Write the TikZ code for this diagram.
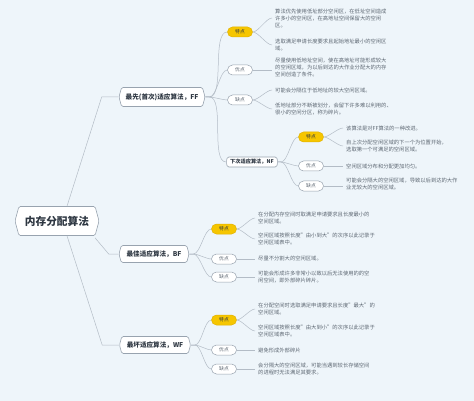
\documentclass[tikz,border=0pt]{standalone}
\usepackage{fontspec}
\setmainfont{Noto Sans CJK SC}
\usetikzlibrary{shapes.symbols}
\definecolor{bgblue}{HTML}{EEF5FA}
\definecolor{linkgray}{HTML}{B3BCC6}
\definecolor{edgegray}{HTML}{98A3AF}
\definecolor{maintext}{HTML}{2E3742}
\definecolor{notegray}{HTML}{5E6873}
\definecolor{tagyellow}{HTML}{F6C600}
\definecolor{tagedge}{HTML}{E2B200}
\tikzset{
  link/.style={draw=linkgray,line width=0.5pt},
  topic/.style={signal,signal to=west and east,signal pointer angle=150,draw=edgegray,fill=white,
    line width=0.6pt,rounded corners=1.5pt,text=maintext,inner xsep=3pt,inner ysep=0pt},
  tag/.style={draw=edgegray,fill=white,rounded corners=5pt,minimum width=25pt,minimum height=10pt,
    inner sep=0pt,line width=0.5pt,text=notegray,font=\fontsize{4.8}{5}\selectfont},
  keytag/.style={tag,draw=tagedge,fill=tagyellow,text=maintext},
  note/.style={anchor=west,align=left,inner sep=0pt,text=notegray,font=\fontsize{5.3}{7}\selectfont}
}
\begin{document}
\begin{tikzpicture}[x=1pt,y=-1pt]
  \fill[bgblue] (0,0) rectangle (474,401);
  \useasboundingbox (0,0) rectangle (474,401);

  % root and the three methods
  \node[topic,minimum height=29pt,minimum width=84pt,font=\fontsize{10.7}{12}\selectfont\bfseries] (root) at (57,221) {内存分配算法};
  \node[topic,minimum height=19pt,minimum width=86pt,font=\fontsize{6.6}{8}\selectfont\bfseries] (ff) at (162,97) {最先(首次)适应算法，FF};
  \node[topic,minimum height=17pt,minimum width=70pt,font=\fontsize{6.6}{8}\selectfont\bfseries] (bf) at (154,254) {最佳适应算法，BF};
  \node[topic,minimum height=17pt,minimum width=71pt,font=\fontsize{6.6}{8}\selectfont\bfseries] (wf) at (155,345) {最坏适应算法，WF};

  \draw[link] (ff.west) -- ++(-17,0) -- ([xshift=10pt]root.north);
  \draw[link] (bf.west) -- ++(-10,0) -- ([xshift=38pt,yshift=-2pt]root.south);
  \draw[link] (wf.west) -- ++(-17,0) -- ([xshift=10pt]root.south);

  % FF
  \node[keytag] (ffa) at (240,32) {特点};
  \node[tag] (ffb) at (240,70) {优点};
  \node[tag] (ffc) at (240,100) {缺点};
  \node[topic,minimum height=10pt,minimum width=49pt,signal pointer angle=160,font=\fontsize{5.2}{6}\selectfont\bfseries] (nf) at (252,162) {下次适应算法，NF};
  \foreach \n in {ffa,ffb,ffc,nf}
    \draw[link] (ff.east) -- ++(4,0) to[out=0,in=180,looseness=0.6] (\n.west);

  \node[note] (ffa1) at (275,18) {算法优先使用低址部分空闲区，在低址空间造成\\许多小的空闲区，在高地址空间保留大的空闲\\区。};
  \node[note] (ffa2) at (275,45) {选取满足申请长度要求且起始地址最小的空闲区\\域。};
  \node[note] (ffb1) at (275,67) {尽量使用低地址空间，使在高地址可能形成较大\\的空闲区域，为以后到达的大作业分配大的内存\\空间创造了条件。};
  \node[note] (ffc1) at (275,90) {可能会分隔位于低地址的较大空闲区域。};
  \node[note] (ffc2) at (275,109) {低地址部分不断被划分，会留下许多难以利用的、\\很小的空闲分区，称为碎片。};
  \draw[link] (ffa.east) to[out=0,in=180,looseness=0.6] ([xshift=-3pt]ffa1.west);
  \draw[link] (ffa.east) to[out=0,in=180,looseness=0.6] ([xshift=-3pt]ffa2.west);
  \draw[link] (ffb.east) -- ([xshift=-3pt]ffb1.west |- ffb.east);
  \draw[link] (ffc.east) to[out=0,in=180,looseness=0.6] ([xshift=-3pt]ffc1.west);
  \draw[link] (ffc.east) to[out=0,in=180,looseness=0.6] ([xshift=-3pt]ffc2.west);

  % NF
  \node[keytag] (nfa) at (311,137) {特点};
  \node[tag] (nfb) at (311,166) {优点};
  \node[tag] (nfc) at (311,186) {缺点};
  \foreach \n in {nfa,nfb,nfc}
    \draw[link] (nf.east) -- ++(3,0) to[out=0,in=180,looseness=0.6] (\n.west);

  \node[note] (nfa1) at (346,128) {该算法是对FF算法的一种改进。};
  \node[note] (nfa2) at (346,146) {自上次分配空闲区域的下一个为位置开始，\\选取第一个可满足的空闲区域。};
  \node[note] (nfb1) at (346,166) {空闲区域分布和分配更加均匀。};
  \node[note] (nfc1) at (346,184) {可能会分隔大的空闲区域，导致以后到达的大作\\业无较大的空闲区域。};
  \draw[link] (nfa.east) to[out=0,in=180,looseness=0.6] ([xshift=-3pt]nfa1.west);
  \draw[link] (nfa.east) to[out=0,in=180,looseness=0.6] ([xshift=-3pt]nfa2.west);
  \draw[link] (nfb.east) -- ([xshift=-3pt]nfb1.west);
  \draw[link] (nfc.east) -- ([xshift=-3pt]nfc1.west |- nfc.east);

  % BF
  \node[keytag] (bfa) at (224,229) {特点};
  \node[tag] (bfb) at (224,259) {优点};
  \node[tag] (bfc) at (224,277) {缺点};
  \foreach \n in {bfa,bfb,bfc}
    \draw[link] (bf.east) -- ++(4,0) to[out=0,in=180,looseness=0.6] (\n.west);

  \node[note] (bfa1) at (258,218) {在分配内存空间时取满足申请要求且长度最小的\\空间区域。};
  \node[note] (bfa2) at (258,239) {空闲区域按照长度"由小到大"的次序以此记录于\\空闲区域表中。};
  \node[note] (bfb1) at (258,258) {尽量不分割大的空闲区域。};
  \node[note] (bfc1) at (258,277) {可能会形成许多非常小以致以后无法使用的的空\\闲空间，即外部碎片碎片。};
  \draw[link] (bfa.east) to[out=0,in=180,looseness=0.6] ([xshift=-3pt]bfa1.west);
  \draw[link] (bfa.east) to[out=0,in=180,looseness=0.6] ([xshift=-3pt]bfa2.west);
  \draw[link] (bfb.east) -- ([xshift=-3pt]bfb1.west |- bfb.east);
  \draw[link] (bfc.east) -- ([xshift=-3pt]bfc1.west);

  % WF
  \node[keytag] (wfa) at (224,320) {特点};
  \node[tag] (wfb) at (224,350) {优点};
  \node[tag] (wfc) at (224,369) {缺点};
  \foreach \n in {wfa,wfb,wfc}
    \draw[link] (wf.east) -- ++(4,0) to[out=0,in=180,looseness=0.6] (\n.west);

  \node[note] (wfa1) at (258,309) {在分配空间时选取满足申请要求且长度"最大"的\\空闲区域。};
  \node[note] (wfa2) at (258,331) {空闲区域按照长度"由大到小"的次序以此记录于\\空闲区域表中。};
  \node[note] (wfb1) at (258,350) {避免形成外部碎片};
  \node[note] (wfc1) at (258,369) {会分隔大的空闲区域，可能当遇到较长存储空间\\的进程时无法满足其要求。};
  \draw[link] (wfa.east) to[out=0,in=180,looseness=0.6] ([xshift=-3pt]wfa1.west);
  \draw[link] (wfa.east) to[out=0,in=180,looseness=0.6] ([xshift=-3pt]wfa2.west);
  \draw[link] (wfb.east) -- ([xshift=-3pt]wfb1.west);
  \draw[link] (wfc.east) -- ([xshift=-3pt]wfc1.west);
\end{tikzpicture}
\end{document}
